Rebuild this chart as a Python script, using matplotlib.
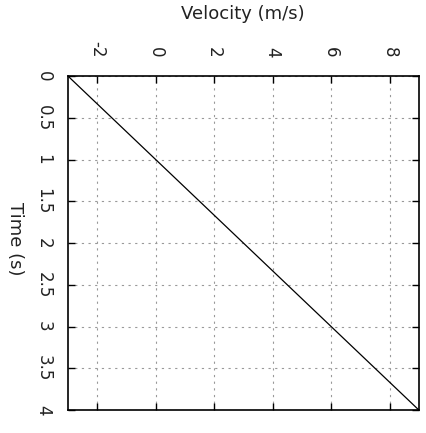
import matplotlib
matplotlib.use('Agg')
import matplotlib.pyplot as plt

# data
time = [0, 4]
velocity = [-3, 9]
vel_ticks = [-2, 0, 2, 4, 6, 8]
time_ticks = [0, 0.5, 1, 1.5, 2, 2.5, 3, 3.5, 4]
time_labels = ['0', '0.5', '1', '1.5', '2', '2.5', '3', '3.5', '4']

fig = plt.figure(figsize=(4.27, 4.33), dpi=100)
ax = fig.add_axes([0.159, 0.053, 0.822, 0.7715])

ax.plot(velocity, time, color='black', linewidth=0.9)
ax.set_xlim(-3, 9)
ax.set_ylim(4, 0)

ax.set_xticks(vel_ticks)
ax.set_xticklabels([str(v) for v in vel_ticks], rotation=-90, fontsize=12, color='#222222')
ax.set_yticks(time_ticks)
ax.set_yticklabels(time_labels, rotation=-90, fontsize=12, color='#222222', va='center')

ax.xaxis.tick_top()
ax.tick_params(axis='both', direction='in', length=5, width=1, top=True, bottom=True,
               left=True, right=True, labelbottom=False, labelright=False)
ax.tick_params(axis='x', pad=13)
ax.tick_params(axis='y', pad=11)

ax.grid(True, linestyle=(0, (2, 4)), color='#999999', linewidth=0.8)
for s in ax.spines.values():
    s.set_linewidth(1.2)

# axis titles
fig.text(243 / 427, 1 - 14 / 433, 'Velocity (m/s)', fontsize=13, color='#222222',
         ha='center', va='center')
fig.text(15 / 427, 1 - 239 / 433, 'Time (s)', fontsize=13, color='#222222',
         ha='center', va='center', rotation=-90)

fig.savefig('out.png', dpi=100)
